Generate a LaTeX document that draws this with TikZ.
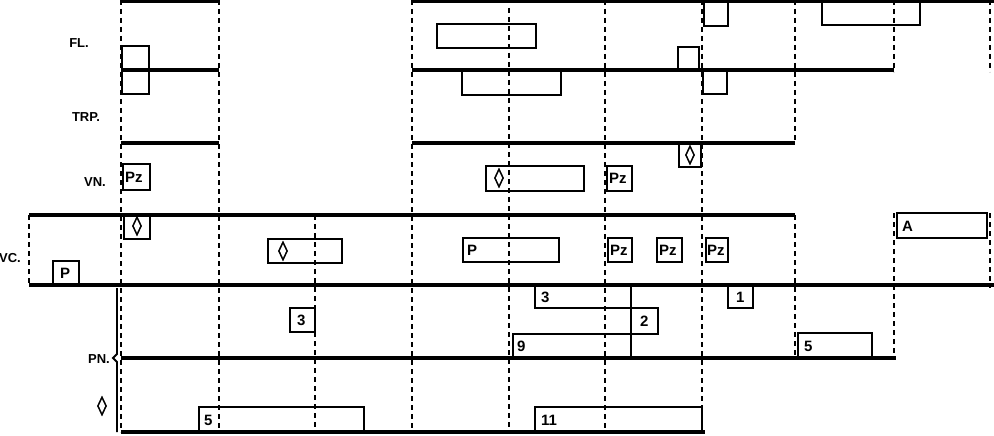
\documentclass[tikz,border=0pt]{standalone}
\usepackage{fontspec}
\setmainfont{Liberation Sans}
\newfontfamily\symf[FakeBold=2.5]{DejaVu Sans}
\begin{document}
\begin{tikzpicture}[x=1pt,y=-1pt,
  staff/.style={line width=3.2pt},
  grid/.style={line width=1.4pt, dash pattern=on 5pt off 4pt},
  box/.style={line width=2.3pt},
  lbl/.style={font=\bfseries\fontsize{13}{13}\selectfont, inner sep=0pt},
  inlbl/.style={font=\bfseries\fontsize{15}{15}\selectfont, inner sep=0pt, anchor=west},
  dia/.style={font=\symf\fontsize{19}{19}\selectfont, inner sep=0pt}]
\useasboundingbox (0,0) rectangle (994,436);
% dashed time lines
\foreach \x/\a/\b in {121/0/432, 219/0/432, 315/215/432, 29/215/285, 412/0/432, 509/8/432, 605/0/432, 702/0/432, 795/0/143, 795/215/358, 894/0/72, 894/213/358, 990/0/72, 990/213/288}
  \draw[grid] (\x,\a) -- (\x,\b);
% staff lines
\draw[staff] (121,1.5) -- (219,1.5);
\draw[staff] (412,1.5) -- (994,1.5);
\draw[staff] (121,70) -- (219,70);
\draw[staff] (412,70) -- (894,70);
\draw[staff] (121,143) -- (219,143);
\draw[staff] (412,143) -- (795,143);
\draw[staff] (29,215) -- (795,215);
\draw[staff] (29,285) -- (994,285);
\draw[staff] (121,358) -- (896,358);
\draw[staff] (121,432) -- (705,432);
% piano brace
\draw[line width=1.8pt] (117,288) -- (117,354) -- (113,358) -- (117,362) -- (117,432);
% instrument labels
\node[lbl] (fl) at (79,43) {FL.};
\node[lbl] (trp) at (86,117) {TRP.};
\node[lbl] (vn) at (95,182) {VN.};
\node[lbl] (vc) at (10,258) {VC.};
\node[lbl] (pn) at (99,359) {PN.};
\node[dia] (pndia) at (102,406) {◊};
% FL / TRP boxes
\draw[box] (122,46) rectangle (149,94);
\draw[box] (437,24) rectangle (536,48);
\draw[box] (462,70) rectangle (561,95);
\draw[box] (704,1.5) rectangle (728,26);
\draw[box] (822,1.5) rectangle (920,25);
\draw[box] (678,47) rectangle (699,70);
\draw[box] (703,70) rectangle (727,94);
\draw[box] (679,143) rectangle (701,167);
\node[dia] (d1) at (690,155) {◊};
% VN boxes
\draw[box] (123,164) rectangle (150,190);
\node[inlbl] (vnpz1) at (125,177) {Pz};
\draw[box] (486,166) rectangle (584,191);
\node[dia] (d2) at (499,178) {◊};
\draw[box] (607,166) rectangle (632,191);
\node[inlbl] (vnpz2) at (609,178) {Pz};
% VC boxes
\draw[box] (124,215) rectangle (150,239);
\node[dia] (d3) at (137,226) {◊};
\draw[box] (53,261) rectangle (79,285);
\node[inlbl] (vcp1) at (60,273) {P};
\draw[box] (268,239) rectangle (342,263);
\node[dia] (d4) at (283,251) {◊};
\draw[box] (463,238) rectangle (559,262);
\node[inlbl] (vcp2) at (467,250) {P};
\draw[box] (608,238) rectangle (632,262);
\node[inlbl] (vcpz1) at (610,250) {Pz};
\draw[box] (657,238) rectangle (682,262);
\node[inlbl] (vcpz2) at (659,250) {Pz};
\draw[box] (706,238) rectangle (728,262);
\node[inlbl] (vcpz3) at (707,250) {Pz};
\draw[box] (897,213) rectangle (987,238);
\node[inlbl] (vca) at (902,226) {A};
% PN boxes
\draw[box] (535,285) rectangle (631,308);
\node[inlbl] (n3a) at (541,297) {3};
\draw[box] (631,308) rectangle (658,334);
\node[inlbl] (n2) at (640,321) {2};
\draw[box] (513,334) rectangle (631,358);
\node[inlbl] (n9) at (517,346) {9};
\draw[box] (631,285) -- (631,358);
\draw[box] (290,308) rectangle (315,332);
\node[inlbl] (n3b) at (297,320) {3};
\draw[box] (728,285) rectangle (753,308);
\node[inlbl] (n1) at (736,297) {1};
\draw[box] (798,333) rectangle (872,358);
\node[inlbl] (n5a) at (804,346) {5};
% bottom boxes
\draw[box] (199,407) rectangle (364,432);
\node[inlbl] (n5b) at (204,420) {5};
\draw[box] (535,407) rectangle (702,432);
\node[inlbl] (n11) at (541,420) {11};
\end{tikzpicture}
\end{document}
